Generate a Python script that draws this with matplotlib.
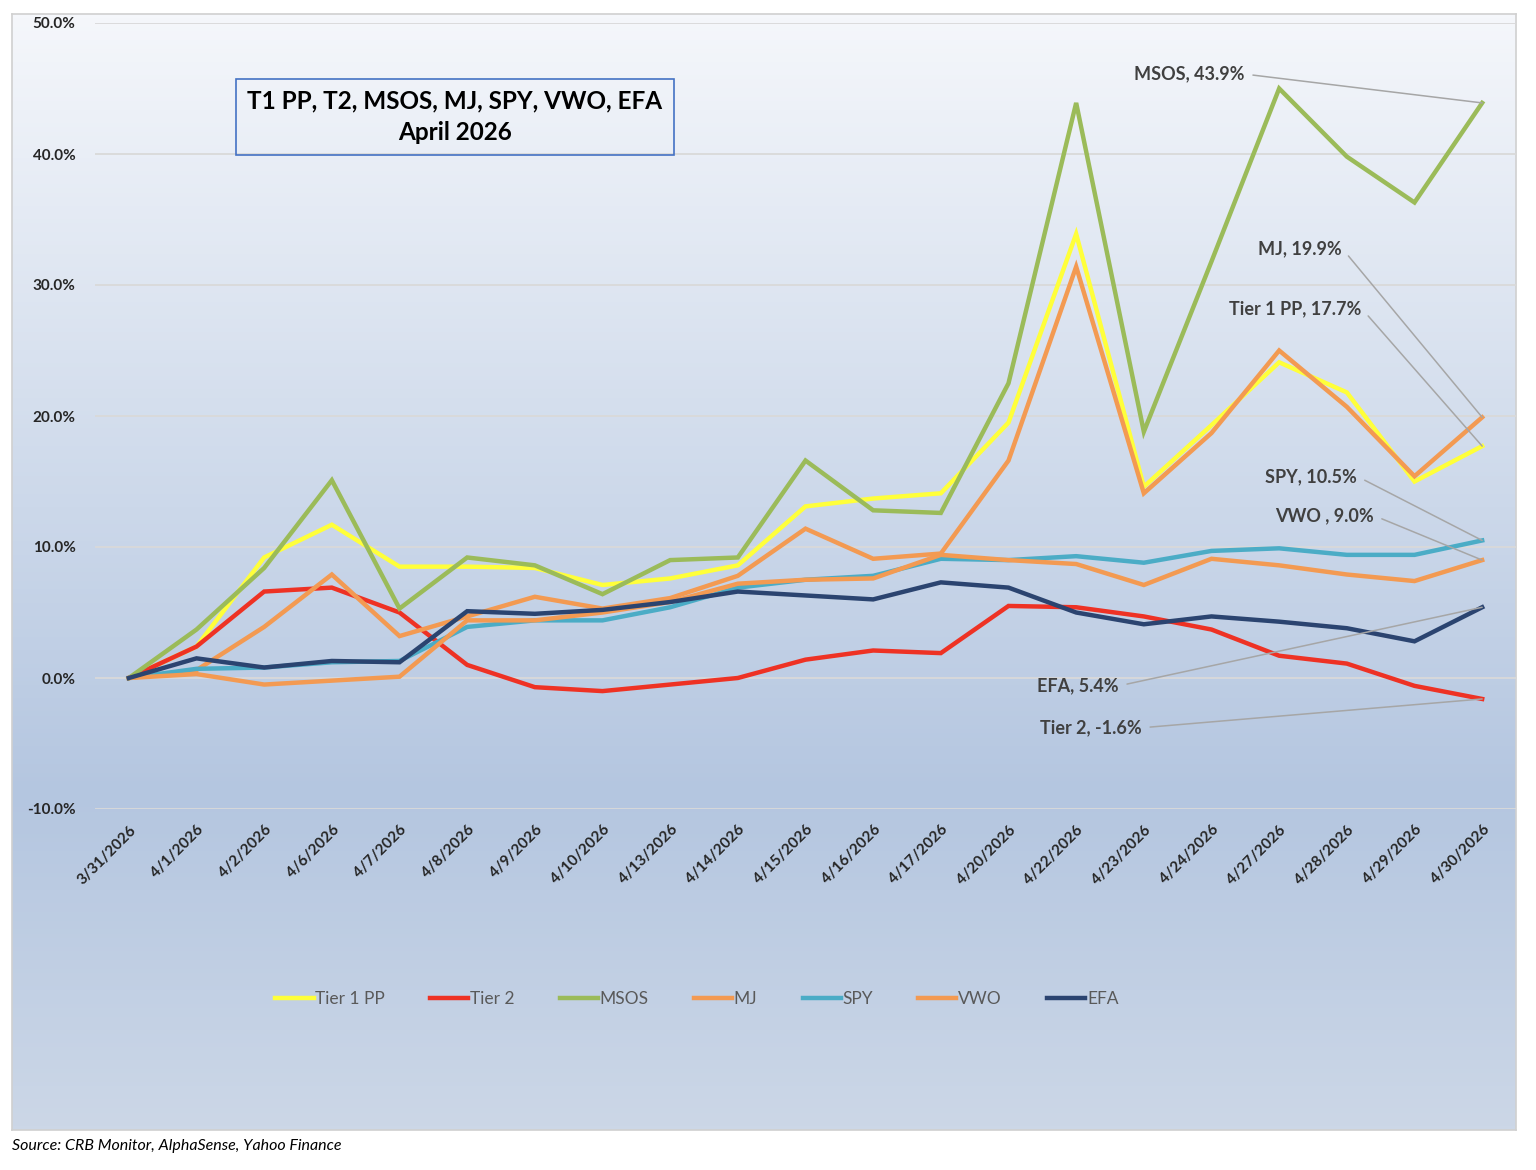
import numpy as np
import matplotlib
matplotlib.use("Agg")
from matplotlib import pyplot as plt
from matplotlib.colors import LinearSegmentedColormap
from matplotlib.patches import Rectangle

plt.rcParams['font.family'] = ['Lato', 'DejaVu Sans']

dates = ["3/31/2026", "4/1/2026", "4/2/2026", "4/6/2026", "4/7/2026", "4/8/2026",
         "4/9/2026", "4/10/2026", "4/13/2026", "4/14/2026", "4/15/2026", "4/16/2026",
         "4/17/2026", "4/20/2026", "4/22/2026", "4/23/2026", "4/24/2026", "4/27/2026",
         "4/28/2026", "4/29/2026", "4/30/2026"]

tier1_pp = [0.0, 2.4, 9.2, 11.7, 8.5, 8.5, 8.4, 7.1, 7.6, 8.6, 13.1, 13.7, 14.1,
            19.5, 33.9, 14.6, 19.3, 24.1, 21.8, 15.0, 17.7]
tier2 = [0.0, 2.4, 6.6, 6.9, 5.0, 1.0, -0.7, -1.0, -0.5, 0.0, 1.4, 2.1, 1.9,
         5.5, 5.4, 4.7, 3.7, 1.7, 1.1, -0.6, -1.6]
msos = [0.0, 3.7, 8.4, 15.1, 5.3, 9.2, 8.6, 6.4, 9.0, 9.2, 16.6, 12.8, 12.6,
        22.5, 43.9, 18.8, 31.8, 45.0, 39.8, 36.3, 43.9]
mj = [0.0, 0.6, 3.9, 7.9, 3.2, 4.7, 6.2, 5.3, 6.1, 7.8, 11.4, 9.1, 9.5,
      16.6, 31.4, 14.1, 18.7, 25.0, 20.7, 15.4, 19.9]
spy = [0.0, 0.7, 0.8, 1.2, 1.3, 3.9, 4.4, 4.4, 5.4, 6.9, 7.5, 7.8, 9.1,
       9.0, 9.3, 8.8, 9.7, 9.9, 9.4, 9.4, 10.5]
vwo = [0.0, 0.3, -0.5, -0.2, 0.1, 4.4, 4.4, 5.0, 5.8, 7.2, 7.5, 7.6, 9.4,
       9.0, 8.7, 7.1, 9.1, 8.6, 7.9, 7.4, 9.0]
efa = [0.0, 1.5, 0.8, 1.3, 1.2, 5.1, 4.9, 5.2, 5.8, 6.6, 6.3, 6.0, 7.3,
       6.9, 5.0, 4.1, 4.7, 4.3, 3.8, 2.8, 5.4]

names = ["Tier 1 PP", "Tier 2", "MSOS", "MJ", "SPY", "VWO", "EFA"]
colors = ["#FFFF3A", "#EE3224", "#9BBB59", "#F39A52", "#4BACC6", "#F39A52", "#2B4470"]
series = [tier1_pp, tier2, msos, mj, spy, vwo, efa]

# end labels: text, x (category index), y (%)
label_text = ["Tier 1 PP, 17.7%", "Tier 2, -1.6%", "MSOS, 43.9%", "MJ, 19.9%",
              "SPY, 10.5%", "VWO , 9.0%", "EFA, 5.4%"]
label_x = [18.22, 14.97, 16.49, 17.93, 18.15, 18.4, 14.63]
label_y = [28.2, -3.8, 46.1, 32.8, 15.4, 12.4, -0.6]

fig = plt.figure(figsize=(15.36, 11.7), dpi=100)

# gradient chart area background
W, H = 1536, 1170
bg = fig.add_axes([12 / W, 1 - 1130 / H, (1516 - 12) / W, (1130 - 14) / H])
cmap = LinearSegmentedColormap.from_list(
    "bg", [(0.0, "#F5F7FB"), (0.7, "#B4C6E0"), (1.0, "#CCD7E7")])
grad = np.linspace(0, 1, 256).reshape(-1, 1)
bg.imshow(grad, aspect="auto", cmap=cmap, extent=[0, 1, 1, 0])
bg.set_xticks([])
bg.set_yticks([])
for s in bg.spines.values():
    s.set_color("#D0D0D0")
    s.set_linewidth(1.2)

ax = fig.add_axes([95 / W, 1 - 809 / H, (1516 - 95) / W, (809 - 23) / H])
ax.set_facecolor("none")
x = np.arange(len(dates))
for name, col, vals in zip(names, colors, series):
    ax.plot(x, vals, '-', color=col, lw=3.2, label=name, solid_joinstyle='miter')

ax.set_xlim(-0.5, len(dates) - 0.5)
ax.set_ylim(-10, 50)
ax.set_yticks(np.arange(-10, 51, 10))
ax.set_yticklabels([f"{v:.1f}%" for v in np.arange(-10, 51, 10)],
                   fontweight='bold', fontsize=11, color="#262626")
ax.set_xticks(x)
ax.set_xticklabels(dates, rotation=45, ha='right', va='top', rotation_mode='anchor',
                   fontweight='bold', fontsize=11, color="#262626")
ax.tick_params(axis='both', length=0)
ax.tick_params(axis='y', pad=14)
ax.tick_params(axis='x', pad=10)
ax.grid(True, axis='y', color="#D9D9D9", lw=1.3)
ax.set_axisbelow(True)
for s in ax.spines.values():
    s.set_visible(False)

# end-of-line labels with leader lines
for i in range(len(names)):
    ax.annotate(label_text[i], xy=(x[-1], series[i][-1]), xytext=(label_x[i], label_y[i]),
                ha='right', va='center', fontsize=13, fontweight='bold', color="#404040",
                arrowprops=dict(arrowstyle='-', color="#A6A6A6", lw=1.1,
                                relpos=(1.0, 0.5), shrinkA=4, shrinkB=0))

# title box
fig.patches.append(Rectangle((236 / W, 1 - 155 / H), (674 - 236) / W, (155 - 79) / H,
                             transform=fig.transFigure, fill=False, ec="#4472C4", lw=1.2))
fig.text(455 / W, 1 - 117 / H, "T1 PP, T2, MSOS, MJ, SPY, VWO, EFA\nApril 2026",
         ha='center', va='center', fontsize=17.5, fontweight='bold', color="black",
         linespacing=1.45)

fig.legend(loc='center', bbox_to_anchor=(697 / W, 1 - 999 / H), ncol=7, frameon=False,
           fontsize=12.5, labelcolor="#595959", handlelength=2.2, handletextpad=0.1,
           columnspacing=2.6)

fig.text(12 / W, 1 - 1146 / H, "Source: CRB Monitor, AlphaSense, Yahoo Finance",
         ha='left', va='center', fontsize=11.5, style='italic', color="black")

fig.savefig("out.png", dpi=100)
